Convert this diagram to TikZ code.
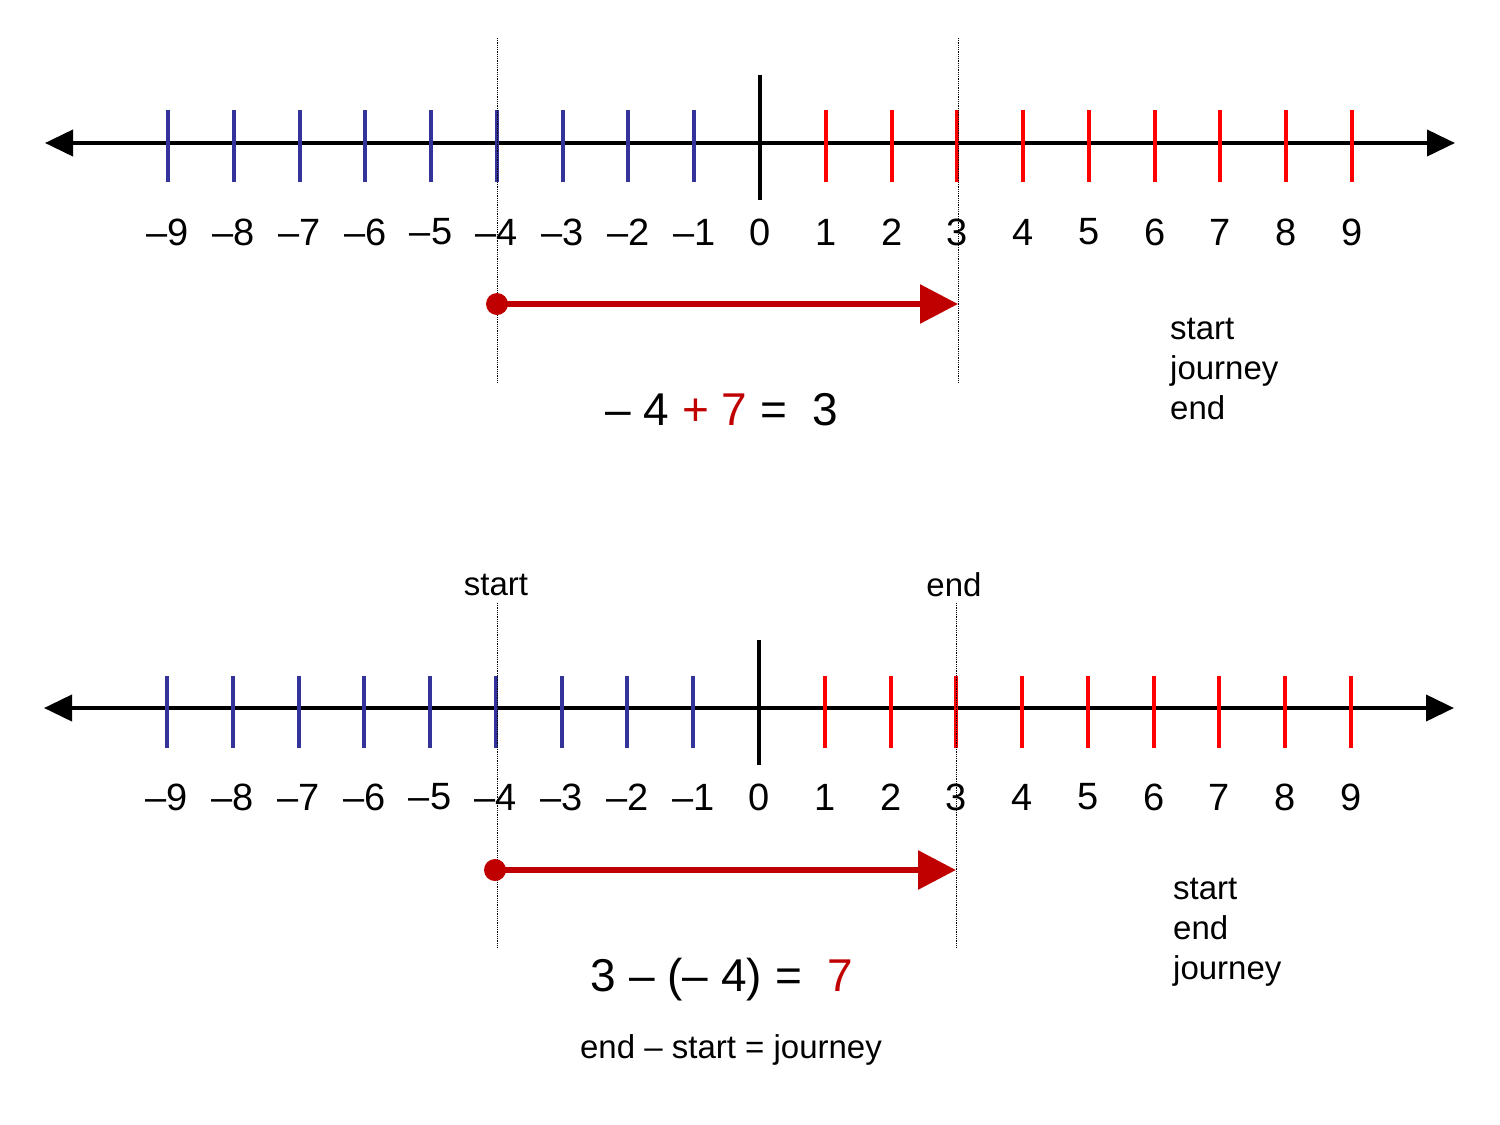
\documentclass[tikz,border=0pt]{standalone}
\usepackage{fontspec}
\setmainfont{Liberation Sans}
\usetikzlibrary{arrows.meta,positioning}
\definecolor{negblue}{RGB}{51,51,153}
\definecolor{posred}{RGB}{255,0,0}
\definecolor{jred}{RGB}{192,0,0}
\tikzset{
  axis/.style={line width=4pt, {Triangle[length=28pt,width=26pt]}-{Triangle[length=28pt,width=26pt]}},
  negtick/.style={negblue, line width=4pt},
  postick/.style={posred, line width=4pt},
  zerotick/.style={black, line width=4pt},
  num/.style={font=\fontsize{38}{40}\selectfont, inner sep=0pt},
  guide/.style={densely dotted, line width=0.8pt},
  journey/.style={jred, line width=6pt, -{Triangle[length=38pt,width=38pt]}},
  startdot/.style={circle, fill=jred, minimum size=22pt, inner sep=0pt},
  eqn/.style={font=\fontsize{46}{50}\selectfont, inner sep=0pt},
  note/.style={font=\fontsize{33}{40}\selectfont, inner sep=0pt, align=left}
}
\begin{document}
\begin{tikzpicture}[x=1pt,y=-1pt]
  \useasboundingbox (0,0) rectangle (1500,1125);

  % top number line
  \draw[axis] (45,143) -- (1455,143);
  \foreach \n in {1,...,9} {
    \draw[negtick] ({760-65.78*\n},110) -- ++(0,72);
    \node[num] (tl-\n) at ({760-65.78*\n},232) {–\n};
    \draw[postick] ({760+65.78*\n},110) -- ++(0,72);
    \node[num] (tr\n) at ({760+65.78*\n},232) {\n};
  }
  \draw[zerotick] (760,75) -- (760,200);
  \node[num] (t0) at (760,232) {0};
  \draw[guide] (497,38) -- (497,383);
  \draw[guide] (958,38) -- (958,383);
  \node[startdot] (tstart) at (497,304) {};
  \coordinate (tend) at (958,304);
  \draw[journey] (tstart.center) -- (tend);
  \node[eqn] (teq) at (722,410) {– 4 \textcolor{jred}{+ 7} = ~3};
  \node[note, anchor=north west] (tnote) at (1170,318) {start\\journey\\end};

  % bottom number line
  \node[font=\fontsize{33}{40}\selectfont] (lstart) at (496,585) {start};
  \node[font=\fontsize{33}{40}\selectfont] (lend) at (954,585) {end};
  \draw[axis] (44,708) -- (1454,708);
  \foreach \n in {1,...,9} {
    \draw[negtick] ({759-65.78*\n},676) -- ++(0,72);
    \node[num] (bl-\n) at ({759-65.78*\n},797) {–\n};
    \draw[postick] ({759+65.78*\n},676) -- ++(0,72);
    \node[num] (br\n) at ({759+65.78*\n},797) {\n};
  }
  \draw[zerotick] (759,640) -- (759,765);
  \node[num] (b0) at (759,797) {0};
  \draw[guide] (497,603) -- (497,948);
  \draw[guide] (956,603) -- (956,948);
  \node[startdot] (bstart) at (495,870) {};
  \coordinate (bend) at (956,870);
  \draw[journey] (bstart.center) -- (bend);
  \node[eqn] (beq) at (722,980) {3 – (– 4) = ~\textcolor{jred}{7}};
  \node[font=\fontsize{33}{40}\selectfont, inner sep=0pt] (bword) at (731,1050) {end – start = journey};
  \node[note, anchor=north west] (bnote) at (1173,878) {start\\end\\journey};
\end{tikzpicture}
\end{document}
